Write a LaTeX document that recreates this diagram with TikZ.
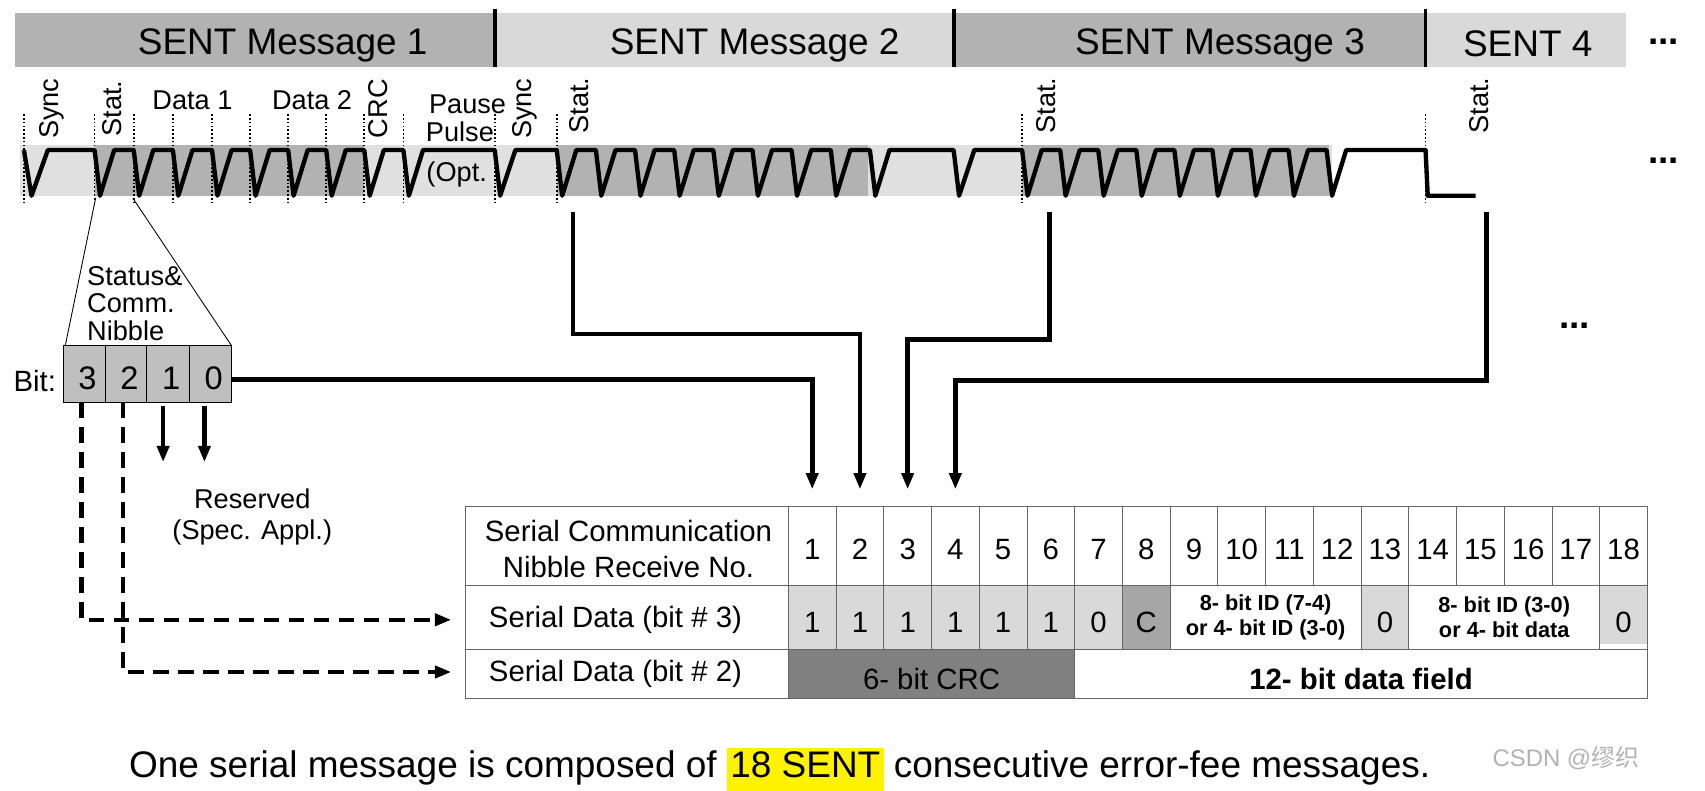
\documentclass[tikz,border=0pt]{standalone}
\usepackage{fontspec}
\setmainfont{Liberation Sans}
\newfontfamily\cjk{Noto Sans CJK SC}
\usetikzlibrary{arrows.meta}
\newcommand{\fs}[1]{\fontsize{#1}{#1}\selectfont}
\begin{document}
\begin{tikzpicture}[x=1pt,y=-1pt,
  wave/.style={line width=4pt,line join=round},
  conn/.style={line width=4.2pt,-{Triangle[length=15pt,width=11pt]}},
  dconn/.style={line width=4.2pt,dash pattern=on 14pt off 9pt,-{Triangle[length=15pt,width=11pt]}},
  dot/.style={line width=1.5pt,dotted},
  lbl/.style={font=\fs{25},inner sep=0pt},
  tlbl/.style={font=\fs{34},inner sep=0pt},
  cell/.style={draw=black!60,line width=0.8pt},
  tx/.style={font=\fs{27},inner sep=0pt}]
\useasboundingbox (0,0) rectangle (1568,727);
% top bar
\fill[black!30] (14,12) rectangle (455,62);
\fill[black!15] (455,12) rectangle (877,62);
\fill[black!30] (877,12) rectangle (1311,62);
\fill[black!15] (1311,12) rectangle (1495,62);
\foreach \x in {455,877,1311}\draw[line width=3.5pt] (\x,8)--(\x,62);
\node[tlbl] (m1) at (260,42) {SENT Message 1};
\node[tlbl] (m2) at (694,42) {SENT Message 2};
\node[tlbl] (m3) at (1122,42) {SENT Message 3};
\node[tlbl] (m4) at (1405,40) {SENT 4};
\node[tlbl,font=\fs{34}\bfseries] (dd1) at (1530,38) {...};
% bands
\fill[black!12] (18,133) rectangle (1225,180);
\fill[black!30] (87,133) rectangle (335,180);
\fill[black!30] (512,133) rectangle (798,180);
\fill[black!30] (940,133) rectangle (1222,180);
% dotted
\foreach \x in {22,87,123,159,195,230,265,300,335,371,455,512,940,1311}
  \draw[dot] (\x,105)--(\x,186);
% waveform
\draw[wave] (22,138)--(29,180)--(44,138)
  \foreach \b in {87,123,159,195,230,265,300,335,371}{--(\b,138)--(\b+5,180)--(\b+18,138)}
  --(455,138)--(460,180)--(474,138)
  \foreach \b in {512,548,584,620,656,692,728,764,800}{--(\b,138)--(\b+5,180)--(\b+18,138)}
  --(877,138)--(882,180)--(896,138)
  \foreach \b in {940,975,1010,1045,1080,1115,1150,1185,1220}{--(\b,138)--(\b+5,180)--(\b+18,138)}
  --(1311,138)--(1313,180)--(1357,180);
% labels
\node[lbl,rotate=90] (s1) at (48,100) {Sync};
\node[lbl,rotate=90] (st1) at (103,100) {Stat.};
\node[lbl] (d1) at (177,92) {Data 1};
\node[lbl] (d2) at (287,92) {Data 2};
\node[lbl,rotate=90] (crc) at (348,100) {CRC};
\node[lbl] (pa) at (430,96) {Pause};
\node[lbl] (pu) at (423,121) {Pulse};
\node[lbl] (op) at (420,160) {(Opt.};
\node[lbl,rotate=90] (s2) at (483,100) {Sync};
\node[lbl,rotate=90] (st2) at (533,97) {Stat.};
\node[lbl,rotate=90] (st3) at (962,97) {Stat.};
\node[lbl,rotate=90] (st4) at (1360,97) {Stat.};
\node[tlbl,font=\fs{34}\bfseries] (dd2) at (1530,148) {...};
\node[tlbl,font=\fs{34}\bfseries] (dd3) at (1448,300) {...};
% zoom lines
\draw[line width=0.8pt] (88,182)--(60,318) (122,182)--(213,318);
\node[lbl,anchor=west] (sn1) at (80,254) {Status\&};
\node[lbl,anchor=west] (sn2) at (80,279) {Comm.};
\node[lbl,anchor=west] (sn3) at (80,304) {Nibble};
% bits
\node[font=\fs{27},inner sep=0pt] (bitl) at (32,350) {Bit:};
\foreach \i/\v/\xa/\xb in {3/3/58/97,2/2/97/135,1/1/135/174,0/0/174/213}{
  \draw[fill=black!25,line width=1pt] (\xa,318) rectangle (\xb,370);
  \node[font=\fs{30},inner sep=0pt] (b\i) at ({(\xa+\xb)/2+3},348) {\v};
}
\coordinate (b0r) at (213,349);
\coordinate (b3d) at (75,370);
\coordinate (b2d) at (113,370);
\draw[conn] (150,373)--(150,425);
\draw[conn] (188,373)--(188,425);
\node[lbl] (res) at (232,459) {Reserved};
\node[lbl] (spa) at (232,490) {(Spec. Appl.)};
% table
\def\cw{43.89}
\fill[black!15] (725,538) rectangle ({725+7*\cw},597);
\fill[black!35] ({725+7*\cw},538) rectangle ({725+8*\cw},597);
\fill[black!15] ({725+12*\cw},538) rectangle ({725+13*\cw},597);
\fill[black!15] ({725+17*\cw},538) rectangle ({725+18*\cw},592);
\fill[black!50] (725,597) rectangle ({725+6*\cw},642);
\draw[cell] (428,466) rectangle (1515,642);
\draw[cell] (428,538)--(1515,538) (428,597)--(1515,597);
\draw[cell] (725,466)--(725,642);
\foreach \k in {1,...,17}{\draw[cell] ({725+\k*\cw},466)--({725+\k*\cw},538);}
\foreach \k in {1,...,8,12,13,17}{\draw[cell] ({725+\k*\cw},538)--({725+\k*\cw},597);}
\draw[cell] ({725+6*\cw},597)--({725+6*\cw},642);
\node[tx,align=center] (h0) at (578,505) {Serial Communication\\[6pt]Nibble Receive No.};
\foreach \k in {1,...,18}{\node[tx] (h\k) at ({725+(\k-0.5)*\cw},505) {\k};}
\node[tx] (r2) at (566,570) {Serial Data (bit \# 3)};
\node[tx] (r3) at (566,620) {Serial Data (bit \# 2)};
\foreach \k in {1,...,6}{\node[tx] (v\k) at ({725+(\k-0.5)*\cw},572) {1};}
\node[tx] (v7) at ({725+6.5*\cw},572) {0};
\node[tx] (v8) at ({725+7.5*\cw},572) {C};
\node[tx] (v13) at ({725+12.5*\cw},572) {0};
\node[tx] (v18) at ({725+17.5*\cw},572) {0};
\node[font=\fs{20}\bfseries,align=center,inner sep=0pt] (id1) at ({725+10*\cw},568) {8- bit ID (7-4)\\[3pt]or 4- bit ID (3-0)};
\node[font=\fs{20}\bfseries,align=center,inner sep=0pt] (id2) at ({725+15*\cw},568) {8- bit ID (3-0)\\[3pt]or 4- bit data};
\node[tx] (crcf) at ({725+3*\cw},624) {6- bit CRC};
\node[tx,font=\fs{27}\bfseries] (df) at ({725+12*\cw},624) {12- bit data field};
\coordinate (t1) at ({725+0.5*\cw},450);
\coordinate (t2) at ({725+1.5*\cw},450);
\coordinate (t3) at ({725+2.5*\cw},450);
\coordinate (t4) at ({725+3.5*\cw},450);
% connectors
\draw[conn] (b0r) -| (t1);
\draw[conn] (527,195) |- (t2 |- 0,307) -- (t2);
\draw[conn] (965,195) |- (t3 |- 0,312) -- (t3);
\draw[conn] (1367,195) |- (t4 |- 0,350) -- (t4);
\coordinate (r2l) at (415,570);
\coordinate (r3l) at (415,618);
\draw[dconn] (b3d) |- (r2l);
\draw[dconn] (b2d) |- (r3l);
% caption
\node[font=\fs{34},inner sep=0pt] (cap) at (717,708) {One serial message is composed of \colorbox{yellow}{\strut 18 SENT} consecutive error-fee messages.};
\node[font=\fs{22},text=black!30,inner sep=0pt] (wm) at (1440,697) {CSDN @{\cjk 缪织}};
\end{tikzpicture}
\end{document}
